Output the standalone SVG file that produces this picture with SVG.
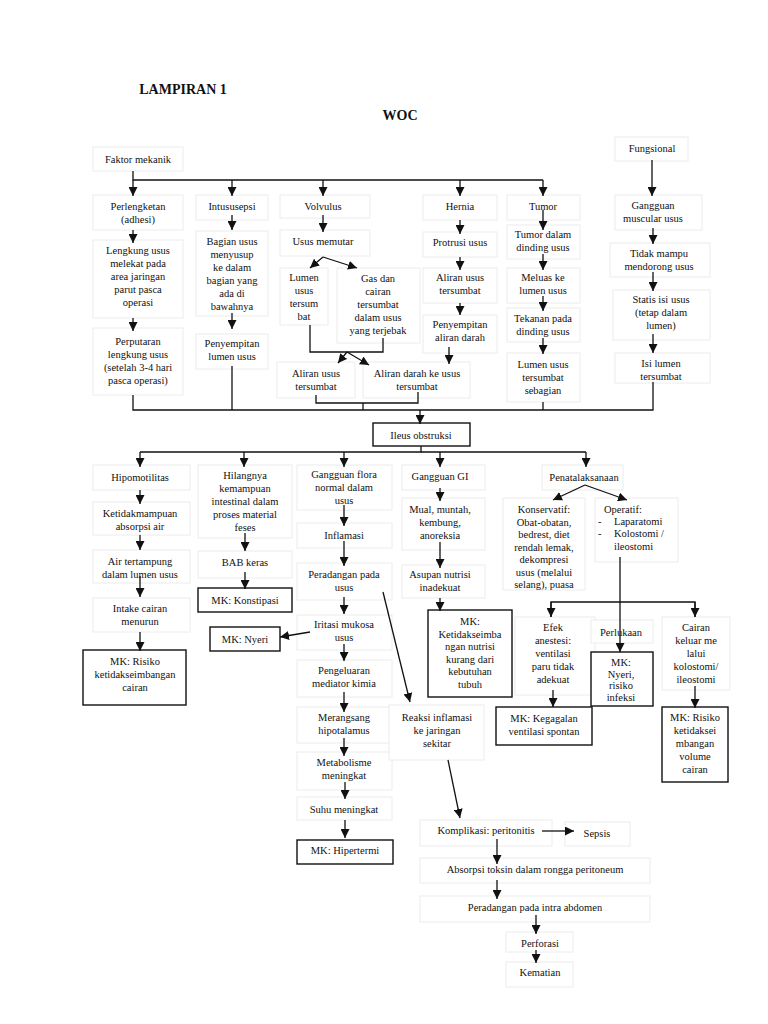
<svg xmlns="http://www.w3.org/2000/svg" width="768" height="1024" viewBox="0 0 768 1024">
<style>
text{font-family:"Liberation Serif","Times New Roman",serif;font-size:10.5px;fill:#111;text-anchor:middle;dominant-baseline:central}
.f{fill:#fff;stroke:#ececec;stroke-width:1}
.b{fill:#fff;stroke:#111;stroke-width:1.4}
.c path,.c line,.c polyline{fill:none;stroke:#111;stroke-width:1.3}
.a{marker-end:url(#ah)}
.l{text-anchor:start}
</style>
<defs><marker id="ah" markerUnits="userSpaceOnUse" markerWidth="9" markerHeight="9" refX="9" refY="4.5" orient="auto"><path d="M0,0 L9,4.5 L0,9 z" fill="#111"/></marker></defs>
<rect width="768" height="1024" fill="#fff"/>
<text x="183" y="89" style="font-size:14px;font-weight:bold">LAMPIRAN 1</text>
<text x="400" y="115" style="font-size:14px;font-weight:bold">WOC</text>

<g id="n-faktor"><rect class="f" x="93" y="147" width="90" height="24"/><text x="138" y="159">Faktor mekanik</text></g>
<g id="n-perl"><rect class="f" x="93" y="195" width="90" height="35"/><text x="138" y="206">Perlengketan<tspan x="138" dy="13">(adhesi)</tspan></text></g>
<g id="n-lengk"><rect class="f" x="93" y="240" width="90" height="78"/><text x="138" y="250">Lengkung usus<tspan x="138" dy="13">melekat pada</tspan><tspan x="138" dy="13">area jaringan</tspan><tspan x="138" dy="13">parut pasca</tspan><tspan x="138" dy="13">operasi</tspan></text></g>
<g id="n-perput"><rect class="f" x="93" y="328" width="90" height="67"/><text x="138" y="341">Perputaran<tspan x="138" dy="13">lengkung usus</tspan><tspan x="138" dy="13">(setelah 3-4 hari</tspan><tspan x="138" dy="13">pasca operasi)</tspan></text></g>
<g id="n-intus"><rect class="f" x="196" y="195" width="72" height="25"/><text x="232" y="206">Intususepsi</text></g>
<g id="n-bagian"><rect class="f" x="196" y="231" width="72" height="85"/><text x="232" y="241">Bagian usus<tspan x="232" dy="13">menyusup</tspan><tspan x="232" dy="13">ke dalam</tspan><tspan x="232" dy="13">bagian yang</tspan><tspan x="232" dy="13">ada di</tspan><tspan x="232" dy="13">bawahnya</tspan></text></g>
<g id="n-penyemp"><rect class="f" x="196" y="334" width="72" height="35"/><text x="232" y="343">Penyempitan<tspan x="232" dy="13">lumen usus</tspan></text></g>
<g id="n-volv"><rect class="f" x="280" y="195" width="90" height="23"/><text x="323" y="206">Volvulus</text></g>
<g id="n-memutar"><rect class="f" x="280" y="230" width="90" height="26"/><text x="323" y="241">Usus memutar</text></g>
<g id="n-lumen"><rect class="f" x="280" y="268" width="48" height="57"/><text x="304" y="277">Lumen<tspan x="304" dy="13">usus</tspan><tspan x="304" dy="13">tersum</tspan><tspan x="304" dy="13">bat</tspan></text></g>
<g id="n-gas"><rect class="f" x="337" y="268" width="83" height="75"/><text x="378" y="278">Gas dan<tspan x="378" dy="13">cairan</tspan><tspan x="378" dy="13">tersumbat</tspan><tspan x="378" dy="13">dalam usus</tspan><tspan x="378" dy="13">yang terjebak</tspan></text></g>
<g id="n-aliranusus"><rect class="f" x="277" y="362" width="78" height="36"/><text x="316" y="373">Aliran usus<tspan x="316" dy="13">tersumbat</tspan></text></g>
<g id="n-alirandarah"><rect class="f" x="363" y="362" width="107" height="36"/><text x="417" y="373">Aliran darah ke usus<tspan x="417" dy="13">tersumbat</tspan></text></g>
<g id="n-hernia"><rect class="f" x="423" y="195" width="74" height="25"/><text x="460" y="206">Hernia</text></g>
<g id="n-protrusi"><rect class="f" x="423" y="232" width="74" height="25"/><text x="460" y="242">Protrusi usus</text></g>
<g id="n-aliran2"><rect class="f" x="423" y="268" width="74" height="35"/><text x="460" y="277">Aliran usus<tspan x="460" dy="13">tersumbat</tspan></text></g>
<g id="n-penyemp2"><rect class="f" x="423" y="315" width="74" height="38"/><text x="460" y="324">Penyempitan<tspan x="460" dy="13">aliran darah</tspan></text></g>
<g id="n-tumor"><rect class="f" x="507" y="195" width="73" height="25"/><text x="543" y="206">Tumor</text></g>
<g id="n-tumor2"><rect class="f" x="507" y="225" width="73" height="34"/><text x="543" y="234">Tumor dalam<tspan x="543" dy="13">dinding usus</tspan></text></g>
<g id="n-meluas"><rect class="f" x="507" y="268" width="73" height="35"/><text x="543" y="277">Meluas ke<tspan x="543" dy="13">lumen usus</tspan></text></g>
<g id="n-tekanan"><rect class="f" x="507" y="308" width="73" height="34"/><text x="543" y="318">Tekanan pada<tspan x="543" dy="13">dinding usus</tspan></text></g>
<g id="n-lumen2"><rect class="f" x="507" y="353" width="73" height="49"/><text x="543" y="364">Lumen usus<tspan x="543" dy="13">tersumbat</tspan><tspan x="543" dy="13">sebagian</tspan></text></g>
<g id="n-fungs"><rect class="f" x="615" y="137" width="73" height="24"/><text x="652" y="148">Fungsional</text></g>
<g id="n-muscular"><rect class="f" x="615" y="195" width="87" height="35"/><text x="653" y="205">Gangguan<tspan x="653" dy="13">muscular usus</tspan></text></g>
<g id="n-tidak"><rect class="f" x="610" y="243" width="100" height="34"/><text x="659" y="253">Tidak mampu<tspan x="659" dy="13">mendorong usus</tspan></text></g>
<g id="n-statis"><rect class="f" x="613" y="290" width="97" height="50"/><text x="661" y="299">Statis isi usus<tspan x="661" dy="13">(tetap dalam</tspan><tspan x="661" dy="13">lumen)</tspan></text></g>
<g id="n-isi"><rect class="f" x="615" y="353" width="95" height="30"/><text x="661" y="363">Isi lumen<tspan x="661" dy="13">tersumbat</tspan></text></g>

<g id="n-ileus"><rect class="b" x="373" y="423" width="97" height="23"/><text x="421" y="435">Ileus obstruksi</text></g>

<g id="n-hipo"><rect class="f" x="93" y="465" width="97" height="25"/><text x="140" y="477">Hipomotilitas</text></g>
<g id="n-ketid"><rect class="f" x="93" y="502" width="97" height="33"/><text x="140" y="513">Ketidakmampuan<tspan x="140" dy="13">absorpsi air</tspan></text></g>
<g id="n-air"><rect class="f" x="93" y="550" width="97" height="33"/><text x="140" y="561">Air tertampung<tspan x="140" dy="13">dalam lumen usus</tspan></text></g>
<g id="n-intake"><rect class="f" x="93" y="598" width="97" height="34"/><text x="140" y="608">Intake cairan<tspan x="140" dy="13">menurun</tspan></text></g>
<g id="n-mk-risiko"><rect class="b" x="83" y="650" width="103" height="55"/><text x="135" y="661">MK: Risiko<tspan x="135" dy="13">ketidakseimbangan</tspan><tspan x="135" dy="13">cairan</tspan></text></g>
<g id="n-hilang"><rect class="f" x="198" y="465" width="94" height="73"/><text x="245" y="475">Hilangnya<tspan x="245" dy="13">kemampuan</tspan><tspan x="245" dy="13">intestinal dalam</tspan><tspan x="245" dy="13">proses material</tspan><tspan x="245" dy="13">feses</tspan></text></g>
<g id="n-bab"><rect class="f" x="198" y="551" width="94" height="27"/><text x="245" y="562">BAB keras</text></g>
<g id="n-mk-konst"><rect class="b" x="198" y="588" width="94" height="24"/><text x="245" y="600">MK: Konstipasi</text></g>
<g id="n-flora"><rect class="f" x="297" y="465" width="95" height="45"/><text x="344" y="474">Gangguan flora<tspan x="344" dy="13">normal dalam</tspan><tspan x="344" dy="13">usus</tspan></text></g>
<g id="n-inflamasi"><rect class="f" x="297" y="523" width="95" height="25"/><text x="344" y="535">Inflamasi</text></g>
<g id="n-peradangan"><rect class="f" x="297" y="563" width="95" height="37"/><text x="344" y="574">Peradangan pada<tspan x="344" dy="13">usus</tspan></text></g>
<g id="n-iritasi"><rect class="f" x="297" y="615" width="95" height="35"/><text x="344" y="624">Iritasi mukosa<tspan x="344" dy="13">usus</tspan></text></g>
<g id="n-mk-nyeri"><rect class="b" x="210" y="627" width="70" height="24"/><text x="245" y="639">MK: Nyeri</text></g>
<g id="n-pengel"><rect class="f" x="297" y="660" width="95" height="37"/><text x="344" y="670">Pengeluaran<tspan x="344" dy="13">mediator kimia</tspan></text></g>
<g id="n-merang"><rect class="f" x="297" y="707" width="93" height="36"/><text x="344" y="717">Merangsang<tspan x="344" dy="13">hipotalamus</tspan></text></g>
<g id="n-metab"><rect class="f" x="297" y="752" width="95" height="38"/><text x="344" y="762">Metabolisme<tspan x="344" dy="13">meningkat</tspan></text></g>
<g id="n-suhu"><rect class="f" x="297" y="797" width="95" height="23"/><text x="344" y="809">Suhu meningkat</text></g>
<g id="n-mk-hiper"><rect class="b" x="297" y="840" width="96" height="24"/><text x="345" y="850">MK: Hipertermi</text></g>
<g id="n-reaksi"><rect class="f" x="389" y="705" width="95" height="55"/><text x="437" y="717">Reaksi inflamasi<tspan x="437" dy="13">ke jaringan</tspan><tspan x="437" dy="13">sekitar</tspan></text></g>
<g id="n-gi"><rect class="f" x="402" y="465" width="83" height="25"/><text x="440" y="476">Gangguan GI</text></g>
<g id="n-mual"><rect class="f" x="402" y="498" width="83" height="52"/><text x="440" y="509">Mual, muntah,<tspan x="440" dy="13">kembung,</tspan><tspan x="440" dy="13">anoreksia</tspan></text></g>
<g id="n-asupan"><rect class="f" x="402" y="565" width="83" height="33"/><text x="440" y="574">Asupan nutrisi<tspan x="440" dy="13">inadekuat</tspan></text></g>
<g id="n-mk-nutrisi"><rect class="b" x="428" y="610" width="84" height="87"/><text x="470" y="621">MK:<tspan x="470" dy="12.6">Ketidakseimba</tspan><tspan x="470" dy="12.6">ngan nutrisi</tspan><tspan x="470" dy="12.6">kurang dari</tspan><tspan x="470" dy="12.6">kebutuhan</tspan><tspan x="470" dy="12.6">tubuh</tspan></text></g>
<g id="n-penat"><rect class="f" x="542" y="465" width="81" height="25"/><text x="584" y="477">Penatalaksanaan</text></g>
<g id="n-konserv"><rect class="f" x="503" y="498" width="82" height="92"/><text x="544" y="509">Konservatif:<tspan x="544" dy="12.5">Obat-obatan,</tspan><tspan x="544" dy="12.5">bedrest, diet</tspan><tspan x="544" dy="12.5">rendah lemak,</tspan><tspan x="544" dy="12.5">dekompresi</tspan><tspan x="544" dy="12.5">usus (melalui</tspan><tspan x="544" dy="12.5">selang), puasa</tspan></text></g>
<g id="n-operatif"><rect class="f" x="595" y="498" width="83" height="64"/><text class="l" x="604" y="509">Operatif:</text><text class="l" x="598" y="521">-</text><text class="l" x="614" y="521">Laparatomi</text><text class="l" x="598" y="533">-</text><text class="l" x="614" y="533">Kolostomi /</text><text class="l" x="614" y="546">ileostomi</text></g>
<g id="n-efek"><rect class="f" x="515" y="617" width="80" height="78"/><text x="553" y="627">Efek<tspan x="553" dy="13">anestesi:</tspan><tspan x="553" dy="13">ventilasi</tspan><tspan x="553" dy="13">paru tidak</tspan><tspan x="553" dy="13">adekuat</tspan></text></g>
<g id="n-mk-kegagalan"><rect class="b" x="496" y="707" width="96" height="38"/><text x="544" y="718">MK: Kegagalan<tspan x="544" dy="13">ventilasi spontan</tspan></text></g>
<g id="n-perlukaan"><rect class="f" x="591" y="620" width="62" height="23"/><text x="621" y="632">Perlukaan</text></g>
<g id="n-mk-nyeri2"><rect class="b" x="591" y="652" width="62" height="54"/><text x="621" y="662">MK:<tspan x="621" dy="11.5">Nyeri,</tspan><tspan x="621" dy="11.5">risiko</tspan><tspan x="621" dy="11.5">infeksi</tspan></text></g>
<g id="n-cairan"><rect class="f" x="662" y="617" width="68" height="73"/><text x="696" y="627">Cairan<tspan x="696" dy="13">keluar me</tspan><tspan x="696" dy="13">lalui</tspan><tspan x="696" dy="13">kolostomi/</tspan><tspan x="696" dy="13">ileostomi</tspan></text></g>
<g id="n-mk-volume"><rect class="b" x="662" y="707" width="66" height="75"/><text x="695" y="717">MK: Risiko<tspan x="695" dy="13">ketidaksei</tspan><tspan x="695" dy="13">mbangan</tspan><tspan x="695" dy="13">volume</tspan><tspan x="695" dy="13">cairan</tspan></text></g>

<g id="n-kompl"><rect class="f" x="420" y="820" width="132" height="26"/><text x="486" y="830">Komplikasi: peritonitis</text></g>
<g id="n-sepsis"><rect class="f" x="565" y="822" width="65" height="24"/><text x="597" y="833">Sepsis</text></g>
<g id="n-absorpsi"><rect class="f" x="420" y="858" width="230" height="25"/><text x="535" y="869">Absorpsi toksin dalam rongga peritoneum</text></g>
<g id="n-perad2"><rect class="f" x="420" y="896" width="230" height="26"/><text x="535" y="907">Peradangan pada intra abdomen</text></g>
<g id="n-perforasi"><rect class="f" x="506" y="932" width="67" height="20"/><text x="540" y="943">Perforasi</text></g>
<g id="n-kematian"><rect class="f" x="506" y="962" width="67" height="25"/><text x="540" y="972">Kematian</text></g>

<g id="connectors" class="c">
<polyline points="133,171 133,180 543,180"/>
<line class="a" x1="133" y1="180" x2="133" y2="196"/>
<line class="a" x1="232" y1="180" x2="232" y2="196"/>
<line class="a" x1="323" y1="180" x2="323" y2="196"/>
<line class="a" x1="460" y1="180" x2="460" y2="196"/>
<line class="a" x1="543" y1="180" x2="543" y2="196"/>
<line class="a" x1="133" y1="230" x2="133" y2="243"/>
<line class="a" x1="133" y1="318" x2="133" y2="331"/>
<line class="a" x1="232" y1="215" x2="232" y2="230"/>
<line class="a" x1="232" y1="313" x2="232" y2="329"/>
<line class="a" x1="323" y1="215" x2="323" y2="232"/>
<line class="a" x1="323" y1="257" x2="310" y2="268"/>
<line class="a" x1="323" y1="257" x2="357" y2="268"/>
<polyline points="310,325 310,352 383,352 383,338"/>
<line class="a" x1="347" y1="352" x2="338" y2="363"/>
<line class="a" x1="347" y1="352" x2="369" y2="365"/>
<line class="a" x1="460" y1="220" x2="460" y2="234"/>
<line class="a" x1="460" y1="257" x2="460" y2="270"/>
<line class="a" x1="460" y1="303" x2="460" y2="315"/>
<line class="a" x1="449" y1="347" x2="449" y2="364"/>
<line class="a" x1="543" y1="210" x2="543" y2="230"/>
<line class="a" x1="543" y1="254" x2="543" y2="270"/>
<line class="a" x1="543" y1="296" x2="543" y2="311"/>
<line class="a" x1="543" y1="338" x2="543" y2="354"/>
<line class="a" x1="652" y1="160" x2="652" y2="196"/>
<line class="a" x1="653" y1="228" x2="653" y2="244"/>
<line class="a" x1="653" y1="272" x2="653" y2="291"/>
<line class="a" x1="653" y1="334" x2="653" y2="353"/>
<polyline points="133,395 133,410 653,410 653,382"/>
<line x1="232" y1="366" x2="232" y2="410"/>
<line x1="543" y1="402" x2="543" y2="410"/>
<polyline points="316,395 316,403 418,403 418,392"/>
<line x1="363" y1="403" x2="363" y2="410"/>
<line class="a" x1="420" y1="410" x2="420" y2="424"/>
<polyline points="421,446 421,452 140,452"/>
<line x1="421" y1="452" x2="586" y2="452"/>
<line class="a" x1="140" y1="452" x2="140" y2="467"/>
<line class="a" x1="244" y1="452" x2="244" y2="467"/>
<line class="a" x1="344" y1="452" x2="344" y2="467"/>
<line class="a" x1="440" y1="452" x2="440" y2="467"/>
<line class="a" x1="586" y1="452" x2="586" y2="467"/>
<line class="a" x1="140" y1="490" x2="140" y2="504"/>
<line class="a" x1="140" y1="535" x2="140" y2="550"/>
<line class="a" x1="140" y1="576" x2="140" y2="597"/>
<line class="a" x1="140" y1="632" x2="140" y2="651"/>
<line class="a" x1="245" y1="533" x2="245" y2="551"/>
<line class="a" x1="245" y1="572" x2="245" y2="589"/>
<line class="a" x1="344" y1="505" x2="344" y2="526"/>
<line class="a" x1="344" y1="541" x2="344" y2="566"/>
<line class="a" x1="344" y1="597" x2="344" y2="614"/>
<line class="a" x1="310" y1="632" x2="280" y2="637"/>
<line class="a" x1="344" y1="644" x2="344" y2="661"/>
<line class="a" x1="344" y1="692" x2="344" y2="712"/>
<line class="a" x1="344" y1="738" x2="344" y2="756"/>
<line class="a" x1="345" y1="782" x2="345" y2="799"/>
<line class="a" x1="345" y1="820" x2="345" y2="838"/>
<line class="a" x1="383" y1="592" x2="410" y2="702"/>
<line class="a" x1="448" y1="760" x2="460" y2="818"/>
<line class="a" x1="440" y1="488" x2="440" y2="501"/>
<line class="a" x1="440" y1="542" x2="440" y2="568"/>
<line class="a" x1="440" y1="598" x2="440" y2="611"/>
<line class="a" x1="585" y1="485" x2="553" y2="500"/>
<line class="a" x1="585" y1="485" x2="627" y2="500"/>
<line class="a" x1="620" y1="557" x2="620" y2="652"/>
<polyline points="551,617 551,602 695,602 695,617"/>
<line class="a" x1="551" y1="602" x2="551" y2="617"/>
<line class="a" x1="695" y1="602" x2="695" y2="617"/>
<line class="a" x1="553" y1="690" x2="553" y2="707"/>
<line class="a" x1="695" y1="686" x2="695" y2="708"/>
<line class="a" x1="542" y1="831" x2="574" y2="831"/>
<line class="a" x1="497" y1="839" x2="497" y2="864"/>
<line class="a" x1="497" y1="880" x2="497" y2="899"/>
<line class="a" x1="536" y1="915" x2="536" y2="934"/>
<line class="a" x1="536" y1="950" x2="536" y2="963"/>
</g>
</svg>
